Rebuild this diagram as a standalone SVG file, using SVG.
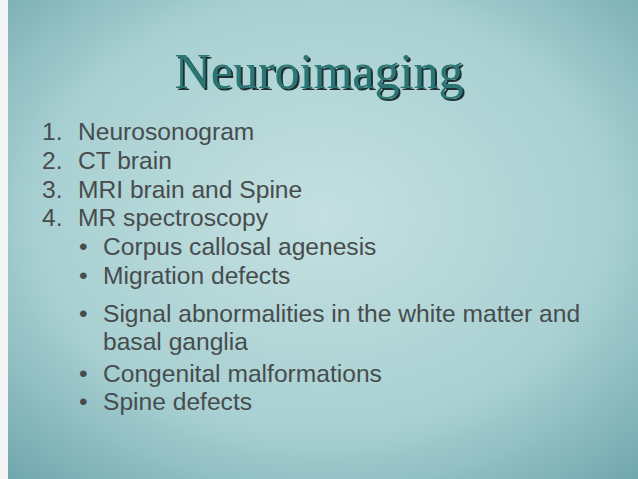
<svg xmlns="http://www.w3.org/2000/svg" width="638" height="479" viewBox="0 0 638 479">
<defs>
<radialGradient id="bg" cx="0.5" cy="0.45" r="0.75">
<stop offset="0" stop-color="#c4e0e0"/>
<stop offset="0.6" stop-color="#a8d0d2"/>
<stop offset="1" stop-color="#6fa6ac"/>
</radialGradient>
<filter id="sh" x="-5%" y="-20%" width="110%" height="140%">
<feDropShadow dx="2" dy="2" stdDeviation="0.6" flood-color="#101c1c" flood-opacity="0.9"/>
</filter>
<style>
.t{font-family:"Liberation Sans",Arial,sans-serif;font-size:24.6px;fill:#474c4d}
.h{font-family:"Liberation Serif","Times New Roman",serif;font-size:50px;text-anchor:middle;fill:#2b7474}
</style>
</defs>
<rect width="638" height="479" fill="#f4f6f6"/>
<rect x="8" y="0" width="630" height="479" fill="url(#bg)"/>
<g id="title">
<text class="h" x="319" y="88" filter="url(#sh)">Neuroimaging</text>
</g>
<g id="list">
<text class="t" x="42" y="140">1.</text><text class="t" x="78" y="140">Neurosonogram</text>
<text class="t" x="42" y="169">2.</text><text class="t" x="78" y="169">CT brain</text>
<text class="t" x="42" y="198">3.</text><text class="t" x="78" y="198">MRI brain and Spine</text>
<text class="t" x="42" y="226">4.</text><text class="t" x="78" y="226">MR spectroscopy</text>
<text class="t" x="79" y="255">•</text><text class="t" x="103" y="255">Corpus callosal agenesis</text>
<text class="t" x="79" y="284">•</text><text class="t" x="103" y="284">Migration defects</text>
<text class="t" x="79" y="322">•</text><text class="t" x="103" y="322">Signal abnormalities in the white matter and</text>
<text class="t" x="103" y="350">basal ganglia</text>
<text class="t" x="79" y="382">•</text><text class="t" x="103" y="382">Congenital malformations</text>
<text class="t" x="79" y="410">•</text><text class="t" x="103" y="410">Spine defects</text>
</g>
</svg>
